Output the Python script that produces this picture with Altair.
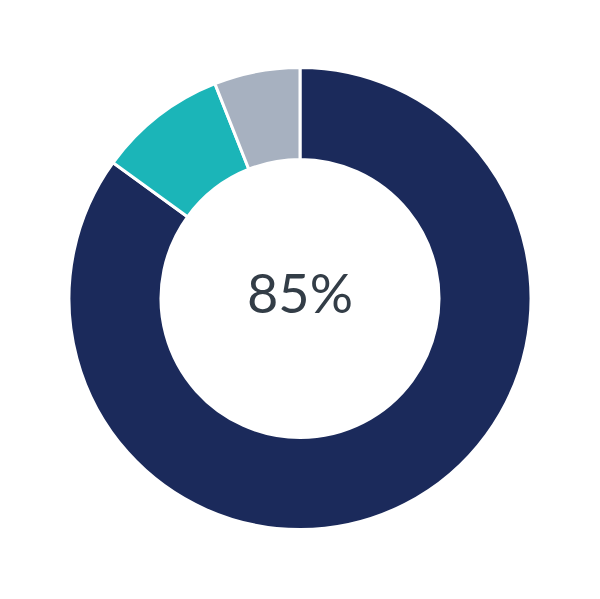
import altair as alt
import pandas as pd

categories = ["A", "B", "C"]
values = [85, 9, 6]
colors = ["#1b2a5b", "#1bb5b8", "#a7b1c0"]
center_label = ["85%"]

df = pd.DataFrame({"category": categories, "value": values, "order": [1, 2, 3]})

arc = alt.Chart(df).mark_arc(outerRadius=231, innerRadius=139, stroke="white", strokeWidth=3).encode(
    theta=alt.Theta("value:Q", stack=True),
    color=alt.Color("category:N", scale=alt.Scale(domain=categories, range=colors), legend=None),
    order=alt.Order("order:Q"),
)

text = alt.Chart(pd.DataFrame({"label": center_label})).mark_text(
    font="Lato", fontSize=54, color="#333d47", baseline="middle", align="center", dy=-2
).encode(text="label:N")

chart = alt.layer(arc, text).properties(
    width=584, height=581,
    autosize=alt.AutoSizeParams(type="fit", contains="padding"),
).configure_view(stroke=None)

chart.save("out.html", embed_options={"renderer": "svg", "actions": False})
